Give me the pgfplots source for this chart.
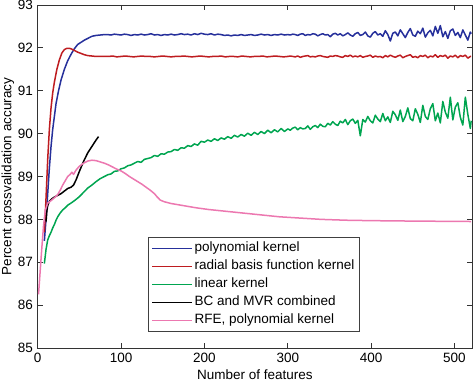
\documentclass[border=0pt]{standalone}
\usepackage{fontspec}
\setmainfont{Liberation Sans}
\usepackage{pgfplots}
\pgfplotsset{compat=1.18}
\definecolor{cblue}{RGB}{38,48,155}
\definecolor{cred}{RGB}{190,28,32}
\definecolor{cgreen}{RGB}{0,165,80}
\definecolor{cpink}{RGB}{236,120,176}
\begin{document}
\fontsize{13.5}{16}\selectfont
\begin{tikzpicture}
\begin{axis}[name=ax, scale only axis, width=434.3pt, height=343pt,
  xmin=0, xmax=521, ymin=85, ymax=93,
  xtick={0,100,...,500}, ytick={85,86,...,93},
  tick align=inside, tick pos=both, major tick length=5pt,
  axis line style={line width=0.8pt, black!80},
  every tick/.style={black!80, line width=0.8pt},
  /pgf/number format/assume math mode=true,
  ticklabel style={font=\fontsize{13.5}{16}\selectfont},
  xlabel={Number of features}, ylabel={Percent crossvalidation accuracy},
  xlabel style={at={(axis description cs:0.5,0)}, anchor=north, yshift=-17pt, font=\fontsize{13.5}{16}\selectfont},
  ylabel style={at={(axis description cs:-0.0684,0.5)}, anchor=center, font=\fontsize{13.5}{16}\selectfont},
  legend style={at={(0.254,0.324)}, anchor=north west, draw=black!75, line width=0.7pt, fill=white,
    inner xsep=3pt, inner ysep=2pt, font=\fontsize{13.5}{16}\selectfont,
    nodes={text height=10pt, text depth=3pt, inner ysep=2.5pt, inner xsep=2pt}},
  legend cell align=left,
  legend image code/.code={\draw[#1,line width=1.3pt] (0pt,0pt) -- (40pt,0pt);},
  every axis plot/.append style={line width=1.5pt, line join=round},
]
% polynomial kernel
\addplot[cblue] coordinates {
(8,87.5) (10,88.0) (12,88.6) (14,89.2) (16,89.7) (18,90.1) (20,90.4) (22,90.7) (25,91.0) (28,91.25) (32,91.5) (36,91.7) (40,91.85) (44,91.98) (48,92.08) (52,92.13) (56,92.18) (60,92.22) (65,92.27) (70,92.29) (75,92.3) (80,92.31)
(84,92.31) (88,92.30) (92,92.32) (96,92.31) (100,92.30) (104,92.32) (108,92.31) (112,92.29) (116,92.31) (120,92.30) (124,92.32) (128,92.30) (132,92.31) (136,92.33) (140,92.30) (144,92.31) (148,92.29) (152,92.31) (156,92.30) (160,92.32) (164,92.30) (168,92.31) (172,92.33) (176,92.31) (180,92.32) (184,92.30) (188,92.33) (192,92.31) (196,92.34) (200,92.32) (204,92.31) (208,92.33) (212,92.30) (216,92.32) (220,92.31) (224,92.29) (228,92.30) (232,92.28) (236,92.30) (240,92.29) (244,92.31) (248,92.29) (252,92.30) (256,92.31) (260,92.29) (264,92.30) (268,92.32) (272,92.30) (276,92.31) (280,92.29) (284,92.31) (288,92.30) (292,92.32) (296,92.30) (300,92.31)
(303,92.30) (306,92.32) (309,92.31) (312,92.29) (315,92.32) (318,92.33) (321,92.29) (324,92.31) (327,92.30) (330,92.33) (333,92.32) (336,92.28) (339,92.31) (342,92.33) (345,92.30) (348,92.31) (351,92.26) (354,92.32) (357,92.34) (360,92.30) (363,92.33) (366,92.28) (369,92.31) (372,92.35) (375,92.30) (378,92.27) (381,92.33) (384,92.36) (387,92.29) (390,92.31) (393,92.37) (396,92.28) (399,92.25) (402,92.34) (405,92.38) (408,92.30) (411,92.33) (414,92.27) (417,92.40) (420,92.31) (423,92.16) (426,92.34) (429,92.37) (432,92.28) (435,92.42) (438,92.33) (441,92.24) (444,92.36) (447,92.45) (450,92.30) (453,92.27) (456,92.39) (459,92.33) (462,92.46) (465,92.25) (468,92.35) (471,92.41) (474,92.28) (477,92.50) (480,92.34) (483,92.52) (486,92.26) (489,92.38) (492,92.22) (495,92.40) (498,92.44) (501,92.29) (504,92.36) (507,92.24) (510,92.42) (513,92.30) (516,92.18) (519,92.37) (520,92.33)
};
\addlegendentry{polynomial kernel}
% radial basis function kernel
\addplot[cred] coordinates {
(8,87.7) (10,88.5) (12,89.4) (14,90.1) (16,90.6) (18,90.95) (20,91.2) (23,91.5) (26,91.72) (29,91.88) (32,91.96) (35,91.99) (38,91.99) (41,91.97) (44,91.94) (48,91.9) (52,91.87) (56,91.84) (60,91.82) (65,91.81) (70,91.80) (75,91.80) (80,91.80)
(85,91.80) (90,91.81) (95,91.79) (100,91.80) (105,91.81) (110,91.80) (115,91.79) (120,91.80) (125,91.81) (130,91.80) (135,91.80) (140,91.79) (145,91.80) (150,91.81) (155,91.80) (160,91.79) (165,91.80) (170,91.80) (175,91.81) (180,91.80) (185,91.79) (190,91.80) (195,91.81) (200,91.80) (205,91.79) (210,91.80) (215,91.80) (220,91.81) (225,91.79) (230,91.80) (235,91.80) (240,91.79) (245,91.81) (250,91.80) (255,91.79) (260,91.80) (265,91.80) (270,91.81) (275,91.79) (280,91.80) (285,91.81) (290,91.80) (295,91.79) (300,91.80)
(303,91.81) (306,91.80) (309,91.79) (312,91.81) (315,91.78) (318,91.80) (321,91.81) (324,91.82) (327,91.79) (330,91.80) (333,91.79) (336,91.81) (339,91.82) (342,91.80) (345,91.79) (348,91.78) (351,91.81) (354,91.80) (357,91.82) (360,91.81) (363,91.79) (366,91.78) (369,91.82) (372,91.80) (375,91.83) (378,91.79) (381,91.81) (384,91.79) (387,91.82) (390,91.78) (393,91.80) (396,91.81) (399,91.83) (402,91.78) (405,91.81) (408,91.79) (411,91.80) (414,91.77) (417,91.82) (420,91.79) (423,91.83) (426,91.80) (429,91.78) (432,91.81) (435,91.83) (438,91.77) (441,91.80) (444,91.82) (447,91.84) (450,91.78) (453,91.80) (456,91.77) (459,91.82) (462,91.80) (465,91.83) (468,91.77) (471,91.81) (474,91.79) (477,91.84) (480,91.78) (483,91.82) (486,91.80) (489,91.83) (492,91.76) (495,91.81) (498,91.79) (501,91.83) (504,91.77) (507,91.82) (510,91.80) (513,91.83) (516,91.76) (519,91.80) (520,91.80)
};
\addlegendentry{radial basis function kernel}
% linear kernel
\addplot[cgreen] coordinates {
(8,86.97) (10,87.3) (12,87.52) (14,87.62) (16,87.7) (18,87.8) (20,87.88) (22,87.98) (24,88.06) (27,88.15) (30,88.22) (33,88.27) (36,88.33) (40,88.38) (45,88.45) (50,88.53) (55,88.63) (60,88.73) (65,88.8) (70,88.88) (75,88.95) (80,89.0)
(84,89.04) (88,89.06) (92,89.12) (96,89.13) (100,89.18) (104,89.20) (108,89.25) (112,89.27) (116,89.31) (120,89.35) (124,89.33) (128,89.40) (132,89.42) (136,89.44) (140,89.49) (144,89.47) (148,89.53) (152,89.52) (156,89.57) (160,89.58) (164,89.63) (168,89.61) (172,89.67) (176,89.66) (180,89.72) (184,89.70) (188,89.76) (192,89.73) (196,89.82) (200,89.80) (204,89.85) (208,89.82) (212,89.88) (216,89.84) (220,89.90) (224,89.87) (228,89.93) (232,89.89) (236,89.96) (240,89.92) (244,89.98) (248,89.94) (252,90.01) (256,89.96) (260,90.03) (264,89.98) (268,90.05) (272,90.00) (276,90.08) (280,90.02) (284,90.09) (288,90.04) (292,90.12) (296,90.05) (300,90.11)
(303,90.08) (306,90.13) (309,90.15) (312,90.09) (315,90.14) (318,90.11) (321,90.12) (324,90.18) (327,90.10) (330,90.16) (333,90.19) (336,90.14) (339,90.22) (342,90.17) (345,90.16) (348,90.24) (351,90.20) (354,90.28) (357,90.22) (360,90.19) (363,90.29) (366,90.25) (369,90.33) (372,90.21) (375,90.30) (378,90.34) (381,90.24) (384,90.31) (387,89.95) (390,90.33) (393,90.27) (396,90.40) (399,90.30) (402,90.25) (405,90.43) (408,90.34) (411,90.28) (414,90.47) (417,90.30) (420,90.39) (423,90.26) (426,90.52) (429,90.44) (432,90.31) (435,90.55) (438,90.28) (441,90.40) (444,90.60) (447,90.35) (450,90.30) (453,90.58) (456,90.45) (459,90.26) (462,90.66) (465,90.40) (468,90.33) (471,90.58) (474,90.70) (477,90.30) (480,90.48) (483,90.25) (486,90.75) (489,90.50) (492,90.36) (495,90.85) (498,90.32) (501,90.62) (504,90.72) (507,90.38) (510,90.20) (513,90.85) (516,90.45) (519,90.12) (520,90.30)
};
\addlegendentry{linear kernel}
% BC and MVR combined
\addplot[black] coordinates {
(10,87.95) (11,88.2) (12,88.32) (14,88.42) (17,88.48) (20,88.52) (24,88.56) (28,88.6) (32,88.66) (36,88.72) (40,88.75) (43,88.8) (46,88.92) (50,89.12) (55,89.35) (60,89.55) (65,89.7) (70,89.85) (73,89.93)
};
\addlegendentry{BC and MVR combined}
% RFE, polynomial kernel
\addplot[cpink] coordinates {
(1,86.25) (3,86.8) (5,87.35) (7,87.85) (9,88.2) (12,88.38) (15,88.42) (18,88.47) (21,88.52) (24,88.58) (27,88.68) (30,88.8) (33,88.9) (36,89.0) (39,89.05) (41,89.1) (43,89.05) (46,89.15) (50,89.24) (55,89.31) (60,89.36) (65,89.38) (70,89.37) (75,89.34) (80,89.31) (85,89.27) (90,89.22) (95,89.17) (100,89.13) (105,89.07) (110,89.0) (115,88.94) (120,88.88) (125,88.82) (130,88.75) (135,88.68) (140,88.6) (143,88.53) (147,88.45) (152,88.41) (160,88.37) (175,88.32) (190,88.27) (205,88.23) (220,88.2) (240,88.16) (255,88.13) (270,88.1) (290,88.06) (315,88.03) (340,88.0) (370,87.98) (400,87.97) (450,87.96) (520,87.95)
};
\addlegendentry{RFE, polynomial kernel}
\end{axis}
\pgfresetboundingbox
\path[use as bounding box] ([xshift=-37.7pt,yshift=-33pt]ax.south west) rectangle ([xshift=2pt,yshift=5pt]ax.north east);
\end{tikzpicture}
\end{document}
